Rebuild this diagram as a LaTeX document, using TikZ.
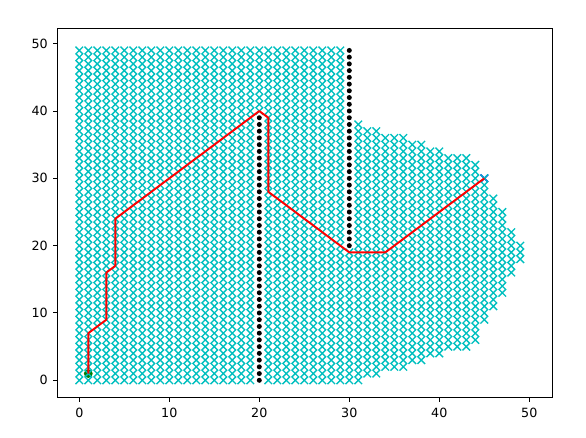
\documentclass[tikz,border=0pt]{standalone}
\usepackage{fontspec}
\setmainfont{DejaVu Sans}

\begin{document}
\begin{tikzpicture}[
    x=1pt, y=1pt,
    >={stealth},
    explmark/.style={draw=mplcyan, line width=1.35pt},
    goalmark/.style={draw=mplblue, line width=1.6pt},
    obsdot/.style={circle, fill=black, minimum size=5pt, inner sep=0pt},
    startdot/.style={circle, fill=mplgreen, minimum size=8.8pt, inner sep=0pt},
    pathline/.style={draw=mplred, line width=1.9pt, line join=round},
    frame/.style={draw=black, line width=1pt},
    tickline/.style={draw=black, line width=1pt},
    ticklabel/.style={inner sep=0pt, font=\fontsize{12.7pt}{15pt}\selectfont}
]

% Define custom colors to match the image closely
\definecolor{mplcyan}{rgb}{0,0.75,0.75}
\definecolor{mplblue}{rgb}{0,0,1}
\definecolor{mplgreen}{rgb}{0,0.5,0}
\definecolor{mplred}{rgb}{1,0,0}

\useasboundingbox (0,0) rectangle (586,437);

% ==================== DATA ====================
\begin{scope}[shift={(79.3pt,56.7pt)}, x=9pt, y=6.732pt]
    % Obstacles
    \foreach \j in {0,...,39}
        \node[obsdot] (wa\j) at (20,\j) {};
    \foreach \j in {20,...,49}
        \node[obsdot] (wb\j) at (30,\j) {};

    % Start and goal
    \node[startdot] (start) at (1,1) {};
    \coordinate (goal) at (45,30);
    \draw[goalmark] (goal) +(-3.8pt,-3.8pt) -- +(3.8pt,3.8pt)
                    (goal) +(-3.8pt,3.8pt) -- +(3.8pt,-3.8pt);

    % Explored cells, left part
    \foreach \i in {0,...,29} {
        \ifnum\i=20 \def\lo{40}\else\def\lo{0}\fi
        \draw[explmark] \foreach \j in {\lo,...,49} {
            (\i,\j) +(-3.8pt,-3.8pt) -- +(3.8pt,3.8pt)
            (\i,\j) +(-3.8pt,3.8pt) -- +(3.8pt,-3.8pt)};
    }
    % Explored cells, right part
    \foreach \i/\lo/\hi in {30/0/19, 31/0/38, 32/1/37, 33/1/37, 34/2/36,
        35/2/36, 36/2/36, 37/3/35, 38/3/35, 39/4/34, 40/4/34, 41/5/33,
        42/5/33, 43/5/33, 44/6/32, 45/9/30, 46/11/27, 47/13/25, 48/16/22,
        49/18/20} {
        \draw[explmark] \foreach \j in {\lo,...,\hi} {
            (\i,\j) +(-3.8pt,-3.8pt) -- +(3.8pt,3.8pt)
            (\i,\j) +(-3.8pt,3.8pt) -- +(3.8pt,-3.8pt)};
    }

    % Path
    \coordinate (p1) at (1,7);
    \coordinate (p2) at (3,9);
    \coordinate (p3) at (3,16);
    \coordinate (p4) at (4,17);
    \coordinate (p5) at (4,24);
    \coordinate (p6) at (20,40);
    \coordinate (p7) at (21,39);
    \coordinate (p8) at (21,28);
    \coordinate (p9) at (30,19);
    \coordinate (p10) at (34,19);
    \draw[pathline] (start.center) -- (p1) -- (p2) -- (p3) -- (p4) -- (p5)
        -- (p6) -- (p7) -- (p8) -- (p9) -- (p10) -- (goal);
\end{scope}

% ==================== AXES ====================
\draw[frame] (57,39.7) rectangle (552.3,408.7);

% Ticks and labels
\foreach \k in {0,...,5} {
    \pgfmathtruncatemacro{\val}{10*\k}
    \draw[tickline] ({79.3+90*\k},39.7) -- ++(0,-4.45);
    \node[ticklabel, anchor=north] (xl\k) at ({79.3+90*\k},28.7) {\val};
    \draw[tickline] (57,{56.7+67.32*\k}) -- ++(-4.45,0);
    \node[ticklabel, anchor=east] (yl\k) at (48,{56.7+67.32*\k}) {\val};
}

\end{tikzpicture}
\end{document}
